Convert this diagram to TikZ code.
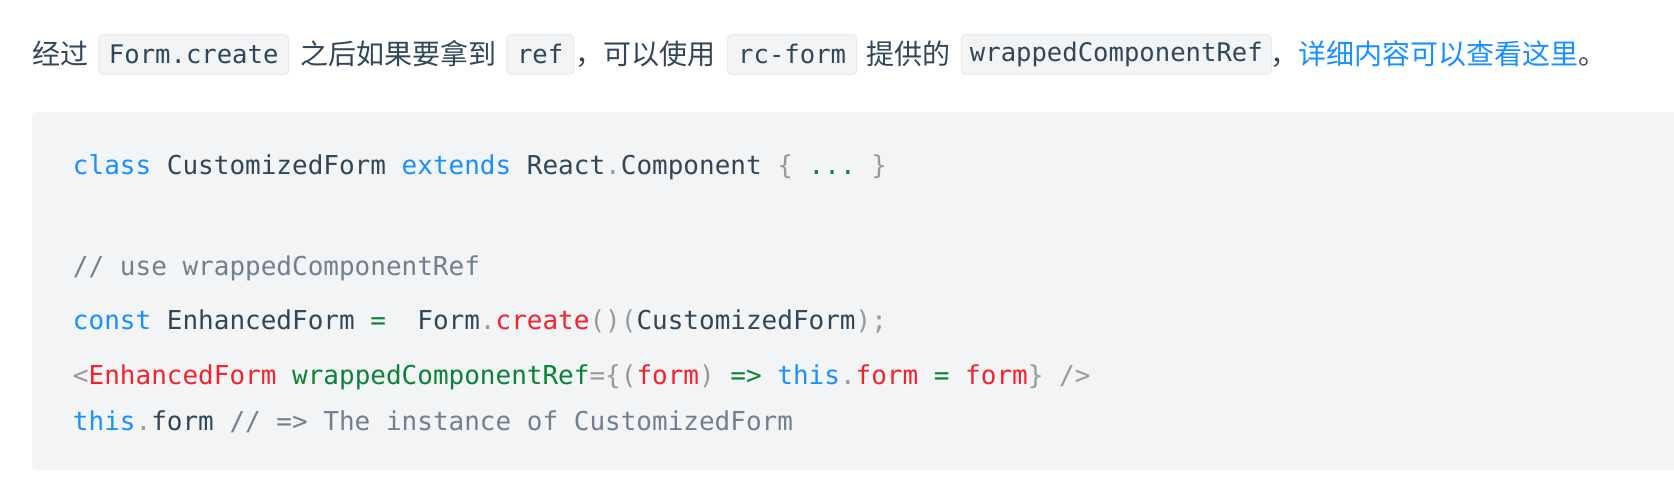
\documentclass[tikz,border=0pt]{standalone}
\usepackage{fontspec}
\setmonofont{DejaVu Sans Mono}
\newfontfamily\cjk{Noto Sans CJK SC}
\definecolor{kw}{HTML}{1890FF}
\definecolor{tx}{HTML}{314659}
\definecolor{cm}{HTML}{708090}
\definecolor{gr}{HTML}{0B8235}
\definecolor{rd}{HTML}{F5222D}
\definecolor{pn}{HTML}{999999}
\definecolor{bg}{HTML}{F2F4F5}
\definecolor{ib}{HTML}{F2F4F5}
\definecolor{ibd}{HTML}{E8EAEC}
\newcommand\cK[1]{\textcolor{kw}{#1}}
\newcommand\cG[1]{\textcolor{gr}{#1}}
\newcommand\cR[1]{\textcolor{rd}{#1}}
\newcommand\cP[1]{\textcolor{pn}{#1}}
\newcommand\cC[1]{\textcolor{cm}{#1}}
\begin{document}
\begin{tikzpicture}[x=0.5338pt,y=-0.5338pt,
  cn/.style={anchor=base west,inner sep=0pt,font=\cjk\fontsize{14}{16}\selectfont,text=tx},
  ic/.style={anchor=west,inner sep=0pt,fill=ib,draw=ibd,line width=0.5pt,rounded corners=2pt,minimum height=19.8pt,font=\ttfamily\fontsize{12.8}{14}\selectfont,text=tx},
  cl/.style={anchor=base west,inner sep=0pt,font=\ttfamily\fontsize{13}{15}\selectfont,text=tx}]
\useasboundingbox (0,0) rectangle (1568,466.5);
\fill[white] (0,0) rectangle (1568,466.5);
\fill[bg,rounded corners=2pt] (30,105) rectangle (1580,440);
% line 1
\node[cn] (t1) at (30,60) {经过};
\node[ic,minimum width=95pt] (c1) at (92,51) {Form.create};
\node[cn] (t2) at (281,60) {之后如果要拿到};
\node[ic,minimum width=33.6pt] (c2) at (474,51) {ref};
\node[cn] (t3) at (539,60) {，可以使用};
\node[ic,minimum width=64.6pt] (c3) at (681,51) {rc-form};
\node[cn] (t4) at (811,60) {提供的};
\node[ic,minimum width=155pt] (c4) at (900,51) {wrappedComponentRef};
\node[cn] (t5) at (1190,60) {，\textcolor{kw}{详细内容可以查看这里}。};
% code
\node[cl] (l1) at (68,163) {\cK{class} CustomizedForm \cK{extends} React\cP{.}Component \cP{\{} \cG{...} \cP{\}}};
\node[cl] (l2) at (68,258) {\cC{// use wrappedComponentRef}};
\node[cl] (l3) at (68,309) {\cK{const} EnhancedForm \cG{=}~~Form\cP{.}\cR{create}\cP{()(}CustomizedForm\cP{);}};
\node[cl] (l4) at (68,360) {\cP{<}\cR{EnhancedForm} \cG{wrappedComponentRef}\cP{=\{(}\cR{form}\cP{)} \cG{=>} \cK{this}\cP{.}\cR{form} \cG{=} \cR{form}\cP{\}} \cP{/>}};
\node[cl] (l5) at (68,403) {\cK{this}\cP{.}form \cC{// => The instance of CustomizedForm}};
\end{tikzpicture}
\end{document}
